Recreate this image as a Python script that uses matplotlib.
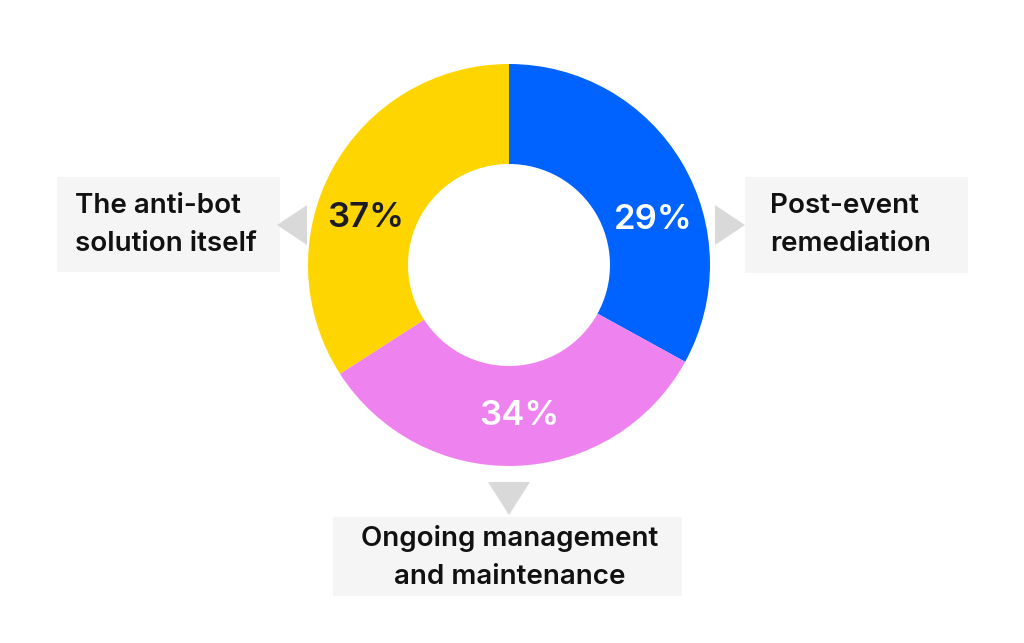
import numpy as np
import matplotlib
matplotlib.use('Agg')
import matplotlib.pyplot as plt
from matplotlib.patches import Rectangle, Polygon

# wedge shares as drawn (clockwise from 12 o'clock) and the printed labels
categories = ["Post-event\nremediation",
              "Ongoing management\nand maintenance",
              "The anti-bot\nsolution itself"]
shares = [33.0, 32.9, 34.1]
pct_labels = ["29%", "34%", "37%"]
colors = ["#0062FF", "#EE82EE", "#FFD500"]
pct_colors = ["white", "white", "#1B1B26"]
pct_angles = [17.5, -86, 162]   # where each % sits around the ring (deg)

W, H = 1024, 643
fig = plt.figure(figsize=(W / 100, H / 100), dpi=100)
ax = fig.add_axes([0, 0, 1, 1])

cx, cy, r_out, ring = 509, H - 265, 201, 100
ax.pie(shares, colors=colors, startangle=90, counterclock=False,
       center=(cx, cy), radius=r_out,
       wedgeprops=dict(width=ring, linewidth=0))

font = 'Inter'
r_mid = r_out - ring / 2
for lab, ang, col in zip(pct_labels, pct_angles, pct_colors):
    a = np.deg2rad(ang)
    ax.text(cx + r_mid * np.cos(a), cy + r_mid * np.sin(a), lab,
            ha='center', va='center', fontsize=25, color=col,
            family=font, weight='semibold')

box_col, tri_col, txt_col = "#F5F5F5", "#D9D9D9", "#111111"

def py(y):
    return H - y

# right label
ax.add_patch(Rectangle((745, py(273)), 223, 96, color=box_col, lw=0))
ax.add_patch(Polygon([(715, py(205)), (715, py(245)), (745, py(225))], color=tri_col, lw=0))
ax.text(770, py(225), categories[0], ha='left', va='center', fontsize=20,
        color=txt_col, family=font, weight='semibold', linespacing=1.6)

# bottom label
ax.add_patch(Rectangle((333, py(596)), 349, 79, color=box_col, lw=0))
ax.add_patch(Polygon([(488, py(482)), (530, py(482)), (509, py(515))], color=tri_col, lw=0))
ax.text(510, py(557), categories[1], ha='center', va='center', fontsize=20,
        color=txt_col, family=font, weight='semibold', linespacing=1.6)

# left label
ax.add_patch(Rectangle((57, py(272)), 223, 95, color=box_col, lw=0))
ax.add_patch(Polygon([(307, py(205)), (307, py(245)), (277, py(225))], color=tri_col, lw=0))
ax.text(75, py(225), categories[2], ha='left', va='center', fontsize=20,
        color=txt_col, family=font, weight='semibold', linespacing=1.6)

ax.set_xlim(0, W)
ax.set_ylim(0, H)
ax.set_aspect('equal')
ax.axis('off')

fig.savefig('out.png', dpi=100, facecolor='white')
